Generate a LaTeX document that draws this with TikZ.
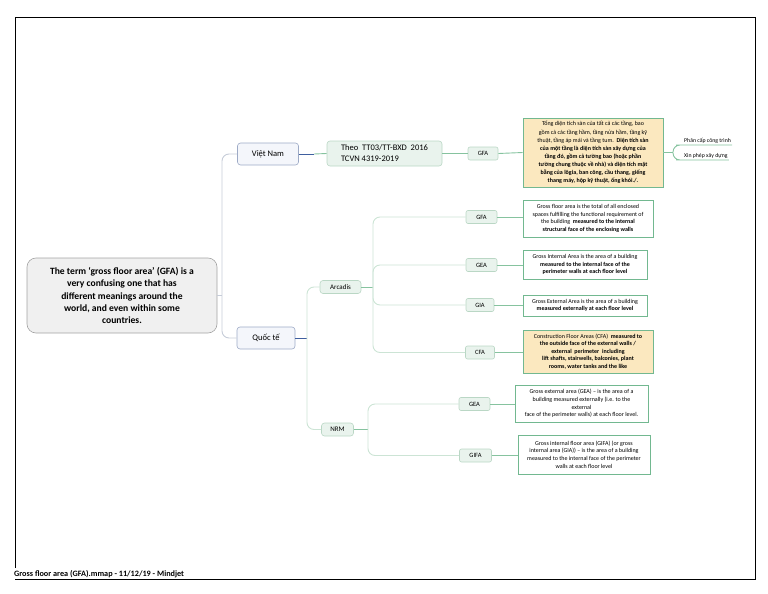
\documentclass[tikz,border=0pt]{standalone}
\usepackage{fontspec}
\setmainfont{Carlito}
\usepackage{xcolor}
\usetikzlibrary{positioning}
\definecolor{rootfill}{HTML}{F0F0F0}
\definecolor{rootdraw}{HTML}{A3A3A3}
\definecolor{mainfill}{HTML}{F4F6FB}
\definecolor{maindraw}{HTML}{9DAAC6}
\definecolor{subfill}{HTML}{E9F3ED}
\definecolor{subdraw}{HTML}{BAD7C5}
\definecolor{descdraw}{HTML}{72B890}
\definecolor{notefill}{HTML}{FBE8BF}
\definecolor{lnklight}{HTML}{CCE4D5}
\definecolor{lnkdark}{HTML}{86C39F}
\definecolor{lnkroot}{HTML}{C6CCD8}
\definecolor{lnkblue}{HTML}{3F5F9F}

\begin{document}
\begin{tikzpicture}[x=1pt, y=-1pt,
  base/.style={draw, line width=0.6pt, rounded corners=3pt, align=center, inner sep=1.5pt},
  root/.style={base, rounded corners=9pt, fill=rootfill, draw=rootdraw,
               minimum width=190pt, minimum height=75pt, font=\fontsize{9.6}{12.3}\selectfont\bfseries},
  main/.style={base, fill=mainfill, draw=maindraw, minimum width=61pt, minimum height=22pt,
               font=\fontsize{8.5}{10}\selectfont},
  sub/.style={base, fill=subfill, draw=subdraw, font=\fontsize{7}{8.5}\selectfont},
  tag/.style={base, rounded corners=2pt, fill=subfill, draw=subdraw, minimum height=13pt,
              font=\fontsize{6.5}{7.5}\selectfont},
  desc/.style={draw=descdraw, line width=0.6pt, fill=white, align=center, inner sep=1pt,
               font=\fontsize{6}{7.6}\selectfont},
  note/.style={desc, fill=notefill},
  lbl/.style={inner sep=1pt, font=\fontsize{5.8}{7}\selectfont},
  lnk/.style={draw=lnklight, line width=0.9pt, rounded corners=7pt},
  lnkd/.style={draw=lnkdark, line width=0.9pt},
  lnkr/.style={draw=lnkroot, line width=0.9pt, rounded corners=7pt},
  lnkb/.style={draw=lnkblue, line width=1pt}
]
\useasboundingbox (0,0) rectangle (768,594);

% page frame and footer
\draw[line width=0.7pt] (15,568) -- (15,17) -- (755,17) -- (755,579) -- (15,579);
\node[anchor=south west, inner sep=0pt, font=\fontsize{8.2}{9}\selectfont\bfseries] (foot) at (14,578)
  {Gross floor area (GFA).mmap - 11/12/19 - Mindjet};

% central topic
\node[root] (root) at (122,295.5) {The term `gross floor area' (GFA) is a\\very confusing one that has\\different meanings around the\\world, and even within some\\countries.};
\coordinate (rootj) at (222,295.5);

% main topics
\node[main] (vn) at (268,154) {Việt Nam};
\node[main, minimum width=58pt] (qt) at (266,338) {Quốc tế};

% Viet Nam branch
\node[base, fill=subfill, draw=subdraw, align=left, minimum width=115pt, minimum height=25pt,
      font=\fontsize{8.5}{11}\selectfont] (theo) at (384.5,153.5) {Theo\ \ TT03/TT-BXD\ \ 2016\\TCVN 4319-2019};
\node[tag, minimum width=30pt] (vgfa) at (483,153.5) {GFA};
\node[note, minimum width=140pt, minimum height=69pt, font=\fontsize{6}{8.1}\selectfont] (vdef) at (593,152.5)
  {Tổng diện tích sàn của tất cả các tầng, bao\\
   gồm cả các tầng hầm, tầng nửa hầm, tầng kỹ\\
   thuật, tầng áp mái và tầng tum.\ \ \textbf{Diện tích sàn}\\
   \textbf{của một tầng là diện tích sàn xây dựng của}\\
   \textbf{tầng đó, gồm cả tường bao (hoặc phần}\\
   \textbf{tường chung thuộc về nhà) và diện tích mặt}\\
   \textbf{bằng của lôgia, ban công, cầu thang, giếng}\\
   \textbf{thang máy, hộp kỹ thuật, ống khói./.}};
\coordinate (brk) at (673,152.5);
\node[lbl, anchor=south west] (pccc) at (683,145) {Phân cấp công trình};
\node[lbl, anchor=south west] (xpxd) at (683,160) {Xin phép xây dựng};

% Quoc te branch
\coordinate (qtj) at (307,338);
\node[sub, minimum width=41pt, minimum height=13pt] (arc) at (340.5,287) {Arcadis};
\node[sub, minimum width=32pt, minimum height=13pt] (nrm) at (337.5,429.5) {NRM};
\coordinate (arcj) at (373,287);
\coordinate (nrmj) at (368,429.5);

\node[tag, minimum width=31pt] (agfa) at (481.5,217) {GFA};
\node[tag, minimum width=31pt] (agea) at (481.5,265) {GEA};
\node[tag, minimum width=28pt] (agia) at (480,305) {GIA};
\node[tag, minimum width=29pt] (acfa) at (480,352.5) {CFA};
\node[tag, minimum width=31pt] (ngea) at (474.5,404) {GEA};
\node[tag, minimum width=32pt] (ngifa) at (475.5,455.5) {GIFA};

\node[desc, minimum width=130pt, minimum height=37pt] (dgfa) at (588,218.5)
  {Gross floor area is the total of all enclosed\\
   spaces fulfilling the functional requirement of\\
   the building\ \ \textbf{measured to the internal}\\
   \textbf{structural face of the enclosing walls}};
\node[desc, minimum width=124pt, minimum height=29pt] (dgea) at (585,264.5)
  {Gross Internal Area is the area of a building\\
   \textbf{measured to the internal face of the}\\
   \textbf{perimeter walls at each floor level}};
\node[desc, minimum width=124pt, minimum height=21pt] (dgia) at (585,305.5)
  {Gross External Area is the area of a building\\
   \textbf{measured externally at each floor level}};
\node[note, minimum width=130pt, minimum height=43pt] (dcfa) at (588,351.5)
  {Construction Floor Areas (CFA)\ \ \textbf{measured to}\\
   \textbf{the outside face of the external walls /}\\
   \textbf{external\ \ perimeter\ \ including}\\
   \textbf{lift shafts, stairwells, balconies, plant}\\
   \textbf{rooms, water tanks and the like}};
\node[desc, minimum width=133pt, minimum height=37pt] (dngea) at (581.5,403.5)
  {Gross external area (GEA) -- is the area of a\\
   building measured externally (i.e. to the\\
   external\\
   face of the perimeter walls) at each floor level.};
\node[desc, minimum width=132pt, minimum height=39pt] (dgifa) at (584,454.5)
  {Gross internal floor area (GIFA) (or gross\\
   internal area (GIA)) -- is the area of a building\\
   measured to the internal face of the perimeter\\
   walls at each floor level};

% connectors
\draw[lnkr] (root.east) -- (rootj);
\draw[lnkr] (rootj) |- (vn.west);
\draw[lnkr] (rootj) |- (qt.west);

\draw[lnkb] (vn.east) -- (314,154);
\draw[lnkd] (314,154) -- (theo.west);
\draw[lnkd] (theo.east) -- (vgfa.west);
\draw[lnkd] (vgfa.east) -- (vdef.west);
\draw[lnkd] (vdef.east) -- (brk);
\draw[lnkd, rounded corners=7pt] (brk) |- (pccc.south west) -- (pccc.south east);
\draw[lnkd, rounded corners=7pt] (brk) |- (xpxd.south west) -- (xpxd.south east);

\draw[lnkb] (qt.east) -- (qtj);
\draw[lnk] (qtj) |- (arc.west);
\draw[lnk] (qtj) |- (nrm.west);

\draw[lnkd] (arc.east) -- (arcj);
\foreach \t in {agfa,agea,agia,acfa}
  \draw[lnk] (arcj) |- (\t.west);
\draw[lnkd] (nrm.east) -- (nrmj);
\foreach \t in {ngea,ngifa}
  \draw[lnk] (nrmj) |- (\t.west);

\draw[lnkd] (agfa.east) -- (agfa.east -| dgfa.west);
\draw[lnkd] (agea.east) -- (agea.east -| dgea.west);
\draw[lnkd] (agia.east) -- (agia.east -| dgia.west);
\draw[lnkd] (acfa.east) -- (acfa.east -| dcfa.west);
\draw[lnkd] (ngea.east) -- (ngea.east -| dngea.west);
\draw[lnkd] (ngifa.east) -- (ngifa.east -| dgifa.west);
\end{tikzpicture}
\end{document}
